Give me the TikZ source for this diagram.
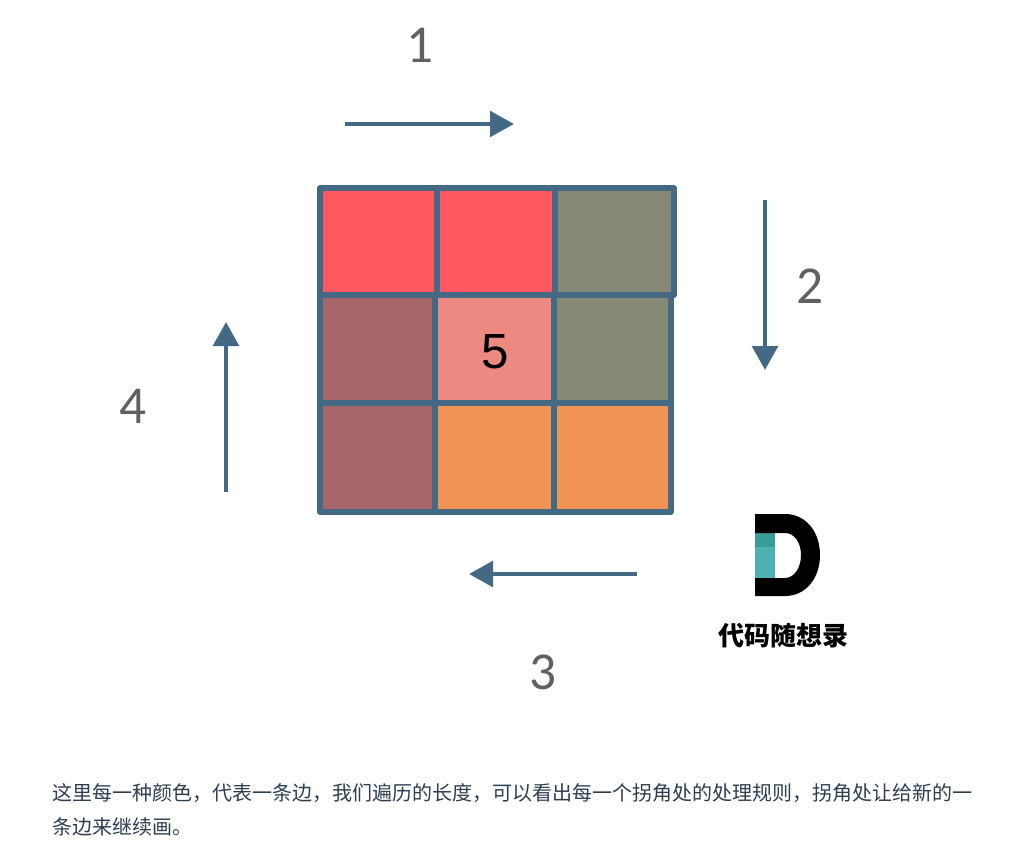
\documentclass[tikz,border=0pt]{standalone}
\usepackage{fontspec}
\usetikzlibrary{arrows.meta}
\newfontfamily\cjk{Noto Sans CJK SC}
\newfontfamily\digitfont{Carlito}
\newfontfamily\fivefont{Liberation Sans}
\definecolor{framecol}{HTML}{436984}
\definecolor{redcol}{HTML}{FF5860}
\definecolor{greencol}{HTML}{868975}
\definecolor{mauvecol}{HTML}{A6666A}
\definecolor{pinkcol}{HTML}{EC8980}
\definecolor{orangecol}{HTML}{F09455}
\definecolor{tealcol}{HTML}{4FB1B3}
\definecolor{darkteal}{HTML}{3A9C94}
\definecolor{textcol}{HTML}{2C3E50}
\tikzset{
	cell/.style={draw=framecol,line width=4.2pt,inner sep=0pt,line join=round},
	dir/.style={draw=framecol,line width=3.5pt,-{Triangle[length=18pt,width=19pt]}},
	num/.style={text=black!62,font=\digitfont\fontsize{40}{40}\selectfont},
	para/.style={text=textcol,anchor=base west,inner sep=0pt,font=\cjk\fontsize{15}{15}\selectfont}
}
\begin{document}
\begin{tikzpicture}[x=0.75pt,y=-0.75pt]
				\useasboundingbox (0,0) rectangle (1009,845);
				% cells: name/left/top/right/bottom/colour
				\foreach \n/\xa/\ya/\xb/\yb/\col in {
					aa/320/188/437/295/redcol,ab/437/188/555/295/redcol,ac/555/188/674/295/greencol,
					ba/320/295/435/403/mauvecol,bb/435/295/554/403/pinkcol,bc/554/295/671/403/greencol,
					ca/320/403/435/512/mauvecol,cb/435/403/554/512/orangecol,cc/554/403/671/512/orangecol}
					\node[cell,fill=\col,minimum width={(\xb-\xa)*0.75pt},minimum height={(\yb-\ya)*0.75pt}] (\n) at ({(\xa+\xb)/2},{(\ya+\yb)/2}) {};
				\node[text=black,font=\fivefont\fontsize{37}{37}\selectfont] (five) at (495,352) {5};
				% arrows and their numbers
				\coordinate (r1) at (345,124);
				\coordinate (r2) at (514,124);
				\coordinate (d1) at (765,200);
				\coordinate (d2) at (765,370);
				\coordinate (l1) at (637,574);
				\coordinate (l2) at (469,574);
				\coordinate (u1) at (226,492);
				\coordinate (u2) at (226,322);
				\draw[dir] (r1)--(r2);
				\draw[dir] (d1)--(d2);
				\draw[dir] (l1)--(l2);
				\draw[dir] (u1)--(u2);
				\node[num] (one) at (420,45) {1};
				\node[num] (two) at (810,286) {2};
				\node[num] (three) at (543,672) {3};
				\node[num] (four) at (133,406) {4};
				% logo
				\fill[tealcol] (755,533) rectangle (775,578);
				\fill[darkteal] (755,533) rectangle (775,547);
				\fill[black] (755,514)--(785,514)..controls (806,514) and (820,532) .. (820,555)..controls (820,578) and (806,596) .. (785,596)--(755,596)--(755,578)--(785,578)..controls (794,578) and (801,568) .. (801,555)..controls (801,542) and (794,533) .. (785,533)--(755,533)--cycle;
				\node[font=\cjk\bfseries\fontsize{19.5}{19.5}\selectfont,inner sep=0pt] (logo) at (783,636) {代码随想录};
				% caption
				\node[para] (lineone) at (52,800) {这里每一种颜色，代表一条边，我们遍历的长度，可以看出每一个拐角处的处理规则，拐角处让给新的一};
				\node[para] (linetwo) at (52,834) {条边来继续画。};
			\end{tikzpicture}
\end{document}
